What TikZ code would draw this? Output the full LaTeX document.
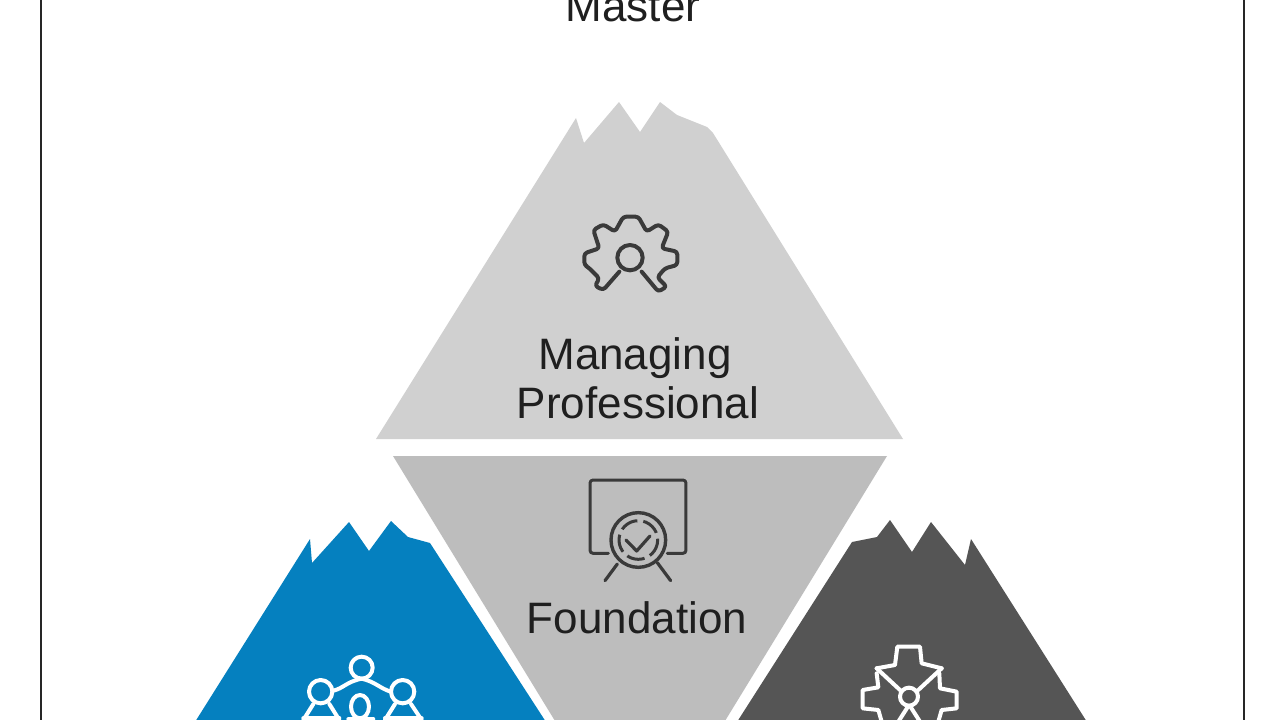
\documentclass[tikz,border=0pt]{standalone}
\usepackage{fontspec}
\setmainfont{Liberation Sans}
\definecolor{topgray}{HTML}{D0D0D0}
\definecolor{midgray}{HTML}{BDBDBD}
\definecolor{peakblue}{HTML}{0580BF}
\definecolor{peakdark}{HTML}{555555}
\definecolor{inkdark}{HTML}{3A3A3A}
\tikzset{
  x=1pt,y=-1pt,
  label text/.style={font=\fontsize{44}{44}\selectfont,text=black!88,inner sep=0pt,anchor=base},
  icon dark/.style={draw=inkdark,line width=4pt,line cap=round,line join=round},
  icon white/.style={draw=white,line width=4pt,line cap=round,line join=round},
  zoomed/.style={x=0.3333pt,y=-0.3333pt}
}
\begin{document}
\begin{tikzpicture}
\useasboundingbox (0,0) rectangle (1280,720);
\clip (0,0) rectangle (1280,720);
\fill[white] (0,0) rectangle (1280,720);
\draw[black!85,line width=1.8pt] (41,-5) -- (41,725);
\draw[black!85,line width=1.8pt] (1244,-5) -- (1244,725);
% peaks
\fill[topgray] (376,439) -- (576,118) -- (584,143) -- (619,102) -- (640,132) -- (660,102) -- (677,115) -- (707,127) -- (713,133) -- (903,439) -- cycle;
\fill[midgray] (393,456) -- (887,456) -- (640,860) -- cycle;
\fill[peakblue] (195,722) -- (310,539) -- (312,563) -- (349,522) -- (369,551) -- (391,521) -- (408,537) -- (430,543) -- (546,722) -- cycle;
\fill[peakdark] (737,722) -- (852,542) -- (877,537) -- (890,520) -- (912,552) -- (931,522) -- (965,565) -- (971,539) -- (1087,722) -- cycle;
% gear icon
\begin{scope}[shift={(540,190)},zoomed]
\draw[icon dark,rounded corners=3pt] (238,245) -- (190,300) -- (165,288) -- (178,265) -- (145,232) -- (133,225) -- (133,190) -- (178,175) -- (160,120) -- (190,103) -- (225,125) -- (250,80) -- (295,80) -- (320,125) -- (355,103) -- (385,125) -- (365,175) -- (412,185) -- (412,225) -- (375,235) -- (352,262) -- (380,290) -- (355,305) -- (305,245);
\draw[icon dark] (270,203) circle[radius=38];
\end{scope}
% certificate icon
\begin{scope}[shift={(560,470)},zoomed]
\draw[icon dark,line width=3pt,rounded corners=3pt] (145,250) -- (90,250) -- (90,30) -- (378,30) -- (378,250) -- (322,250);
\draw[icon dark,line width=3.4pt] (235,210) circle[radius=82];
\draw[icon dark,line width=3pt,dash pattern=on 18pt off 6pt,line cap=butt] (235,210) circle[radius=58];
\draw[icon dark,line width=3.2pt] (198,210) -- (230,243) -- (270,198);
\draw[icon dark,line width=3.2pt] (172,282) -- (135,332);
\draw[icon dark,line width=3.2pt] (292,278) -- (332,332);
\end{scope}
% people icon
\begin{scope}[shift={(280,640)},zoomed]
\draw[icon white] (245,83) circle[radius=33];
\draw[icon white] (122,155) circle[radius=35];
\draw[icon white] (368,155) circle[radius=35];
\draw[icon white] (240,200) ellipse[x radius=27,y radius=35];
\draw[icon white] (160,152) .. controls (190,145) and (200,125) .. (245,116) .. controls (285,125) and (300,145) .. (332,155);
\draw[icon white] (70,240) -- (100,192);
\draw[icon white] (148,192) -- (178,240);
\draw[icon white] (70,235) -- (178,235);
\draw[icon white] (315,240) -- (345,192);
\draw[icon white] (393,192) -- (425,240);
\draw[icon white] (315,235) -- (425,235);
\draw[icon white] (205,238) -- (280,238);
\end{scope}
% dark gear icon
\begin{scope}[shift={(840,630)},zoomed]
\draw[icon white] (110,115) -- (165,105) -- (172,50) -- (240,50) -- (245,100) -- (305,115);
\draw[icon white] (110,130) -- (115,172) -- (68,180) -- (68,235) -- (115,240) -- (125,275);
\draw[icon white] (298,130) -- (300,175) -- (350,185) -- (350,235) -- (305,240) -- (295,275);
\draw[icon white] (110,115) -- (180,180);
\draw[icon white] (305,115) -- (235,180);
\draw[icon white] (207,200) circle[radius=27];
\draw[icon white] (205,228) -- (175,275);
\draw[icon white] (210,228) -- (240,275);
\end{scope}
% labels
\node[label text] (master) at (633,21) {Master};
\node[label text] (managing) at (635,369) {Managing};
\node[label text] (professional) at (638,418) {Professional};
\node[label text] (foundation) at (637,633) {Foundation};
\end{tikzpicture}
\end{document}
